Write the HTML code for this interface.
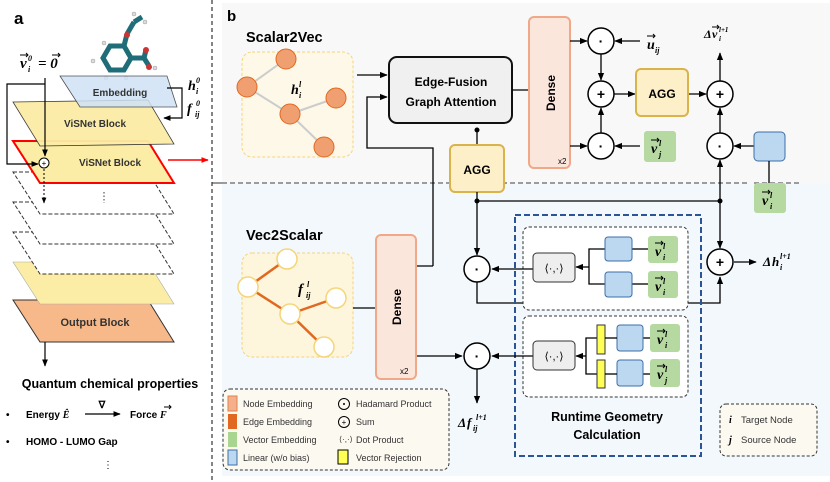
<!DOCTYPE html>
<html><head><meta charset="utf-8"><style>
body{margin:0;background:#fff}
svg{display:block}
.b{font-family:"Liberation Sans",sans-serif;font-weight:bold}
.s{font-family:"Liberation Sans",sans-serif}
.m{font-family:"Liberation Serif",serif;font-style:italic;font-weight:bold}
.va{stroke:#000;stroke-width:1;fill:none}
</style></head><body>
<svg width="830" height="482" viewBox="0 0 830 482" xmlns="http://www.w3.org/2000/svg">
<defs>
<marker id="a" viewBox="0 0 10 10" refX="9" refY="5" markerWidth="6" markerHeight="6" orient="auto"><path d="M0,1 L10,5 L0,9 z" fill="#000"/></marker>
<marker id="ar" viewBox="0 0 10 10" refX="9" refY="5" markerWidth="5" markerHeight="5" orient="auto"><path d="M0,1 L10,5 L0,9 z" fill="#f00"/></marker>
</defs>
<rect x="222" y="3" width="608" height="181" fill="#f8f8f9"/>
<rect x="222" y="184" width="608" height="292" fill="#f3f8fd"/>
<line x1="212" y1="0" x2="212" y2="482" stroke="#333" stroke-dasharray="4,3" stroke-width="1.2"/>
<line x1="212" y1="183" x2="222" y2="183" stroke="#333"/>
<line x1="222" y1="183" x2="750" y2="183" stroke="#666" stroke-dasharray="5,3" stroke-width="1.3"/>
<line x1="754" y1="183" x2="800" y2="183" stroke="#666" stroke-dasharray="5,3" stroke-width="1.3"/>

<!-- ===== Panel a ===== -->
<text x="14" y="24" class="b" font-size="17">a</text>
<g stroke="#1f6d78" stroke-width="5" fill="none">
<polygon points="110,46 124,46 131,58 124,70 110,70 103,58"/>
<line x1="124" y1="46" x2="127" y2="34"/><line x1="127" y1="34" x2="134" y2="22"/><line x1="134" y1="22" x2="142" y2="17"/>
<line x1="131" y1="58" x2="144" y2="58"/><line x1="144" y1="58" x2="146" y2="50"/><line x1="144" y1="58" x2="149" y2="66"/>
</g>
<circle cx="127" cy="35" r="3" fill="#c33"/><circle cx="146" cy="50" r="3" fill="#c33"/><circle cx="149" cy="67" r="3" fill="#c33"/>
<g fill="#ddd" stroke="#999" stroke-width=".5"><circle cx="134" cy="14" r="2"/><circle cx="145" cy="22" r="2"/><circle cx="104" cy="43" r="2"/><circle cx="93" cy="61" r="2"/><circle cx="106" cy="78" r="2"/><circle cx="126" cy="78" r="2"/><circle cx="155" cy="68" r="2"/></g>
<polygon points="13,300 148,300 174,342 40,342" fill="#f8b98a" stroke="#333" stroke-width="1"/>
<text x="95" y="326" class="b" font-size="11" fill="#333" text-anchor="middle">Output Block</text>
<polygon points="13,262 148,262 174,304 40,304" fill="#fbeda5" stroke="#aaa" stroke-width=".6"/>
<polygon points="13,232 148,232 174,274 40,274" fill="#fff" stroke="#333" stroke-dasharray="4,2"/>
<polygon points="13,202 148,202 174,244 40,244" fill="#fff" stroke="#333" stroke-dasharray="4,2"/>
<polygon points="13,172 148,172 174,214 40,214" fill="#fff" stroke="#333" stroke-dasharray="4,2"/>
<line x1="104" y1="192" x2="104" y2="203" stroke="#333" stroke-dasharray="1.5,2"/>
<polygon points="13,141 148,141 174,183 40,183" fill="#fbeda5" stroke="#f00" stroke-width="2"/>
<text x="110" y="166" class="b" font-size="10" fill="#333" text-anchor="middle">ViSNet Block</text>
<polygon points="13,102 148,100 174,144 40,146" fill="#fbeda5" stroke="#333" stroke-width=".8" opacity=".95"/>
<text x="95" y="127" class="b" font-size="10" fill="#333" text-anchor="middle">ViSNet Block</text>
<polygon points="60,76 167,76 177,107 80,107" fill="#cfe2f6" stroke="#333" stroke-width=".8" opacity=".85"/>
<text x="120" y="96" class="b" font-size="10" fill="#333" text-anchor="middle">Embedding</text>
<!-- v_i^0 = 0 -->
<text x="20" y="68" class="m" font-size="15">v</text><text x="28" y="72" class="m" font-size="8">i</text><text x="28" y="61" class="m" font-size="8">0</text>
<text x="38" y="68" class="m" font-size="15" font-style="normal">= 0</text>
<path class="va" d="M20,55 h8 m-2,-2 l2,2 l-2,2"/><path class="va" d="M52,55 h8 m-2,-2 l2,2 l-2,2"/>
<line x1="45" y1="78" x2="45" y2="156" stroke="#000" stroke-width="1.2" marker-end="url(#a)"/>
<polyline points="45,84 7,84 7,164 38,164" fill="none" stroke="#000" stroke-width="1.2" marker-end="url(#a)"/>
<circle cx="44" cy="163" r="5" fill="#fff" stroke="#000"/><text x="44" y="166" class="s" font-size="8" text-anchor="middle">+</text>
<line x1="44" y1="169" x2="44" y2="203" stroke="#000" stroke-dasharray="2,2" marker-end="url(#a)"/>
<line x1="168" y1="160" x2="208" y2="160" stroke="#f00" stroke-width="1.5" marker-end="url(#ar)"/>
<polyline points="167,88 182,88 182,118 164,118" fill="none" stroke="#000" stroke-width="1.2" marker-end="url(#a)"/>
<text x="188" y="90" class="m" font-size="14">h</text><text x="196" y="94" class="m" font-size="8">i</text><text x="196" y="83" class="m" font-size="8">0</text>
<text x="187" y="113" class="m" font-size="14">f</text><text x="195" y="117" class="m" font-size="8">ij</text><text x="196" y="106" class="m" font-size="8">0</text>
<line x1="45" y1="342" x2="45" y2="366" stroke="#000" stroke-width="1.2" marker-end="url(#a)"/>
<text x="110" y="388" class="b" font-size="12.5" text-anchor="middle">Quantum chemical properties</text>
<text x="6" y="418" class="b" font-size="10">•</text>
<text x="26" y="418" class="b" font-size="10">Energy <tspan class="m" font-weight="normal">Ê</tspan></text>
<line x1="85" y1="414" x2="120" y2="414" stroke="#000" stroke-width="1.2" marker-end="url(#a)"/>
<text x="102" y="408" class="b" font-size="10" text-anchor="middle">∇</text>
<text x="130" y="418" class="b" font-size="10">Force <tspan class="m">F</tspan></text>
<path class="va" d="M164,407 h7 m-2,-2 l2,2 l-2,2"/>
<text x="6" y="445" class="b" font-size="10">•</text>
<text x="26" y="445" class="b" font-size="10">HOMO - LUMO Gap</text>
<text x="103" y="468" class="s" font-size="10">⋮</text>

<!-- ===== Panel b ===== -->
<text x="227" y="21" class="b" font-size="15">b</text>
<text x="246" y="42" class="b" font-size="14.5">Scalar2Vec</text>
<rect x="242" y="52" width="111" height="105" rx="10" fill="#fdf8e8" stroke="#f5d57a" stroke-dasharray="3,2"/>
<g stroke="#ccc" stroke-width="2"><line x1="286" y1="59" x2="247" y2="87"/><line x1="247" y1="87" x2="290" y2="114"/><line x1="290" y1="114" x2="336" y2="98"/><line x1="290" y1="114" x2="324" y2="147"/></g>
<g fill="#f0a070" stroke="#e06820" stroke-width="1"><circle cx="286" cy="59" r="10"/><circle cx="247" cy="87" r="10"/><circle cx="336" cy="98" r="10"/><circle cx="290" cy="114" r="10"/><circle cx="324" cy="147" r="10"/></g>
<text x="291" y="94" class="m" font-size="14">h</text><text x="299" y="98" class="m" font-size="8">i</text><text x="299" y="87" class="m" font-size="8">l</text>

<line x1="357" y1="75" x2="387" y2="75" stroke="#000" stroke-width="1.3" marker-end="url(#a)"/>
<polyline points="433,266 433,148 367,148 367,97 387,97" fill="none" stroke="#000" stroke-width="1.3" marker-end="url(#a)"/>
<polyline points="416,266 433,266" fill="none" stroke="#000" stroke-width="1.3"/>
<rect x="389" y="57" width="123" height="66" rx="8" fill="#f0f0f0" stroke="#111" stroke-width="2"/>
<text x="451" y="86" class="b" font-size="12" text-anchor="middle">Edge-Fusion</text>
<text x="451" y="106" class="b" font-size="12" text-anchor="middle">Graph Attention</text>
<line x1="512" y1="90" x2="530" y2="90" stroke="#000" stroke-width="1.3"/>
<rect x="529" y="17" width="41" height="151" rx="5" fill="#fbe6dc" stroke="#f0a888" stroke-width="2"/>
<text transform="translate(555,93) rotate(-90)" class="b" font-size="12" text-anchor="middle">Dense</text>
<text x="558" y="164" class="s" font-size="8">x2</text>
<line x1="477" y1="130" x2="477" y2="145" stroke="#000" stroke-width="1.3"/><circle cx="477" cy="130" r="2.5"/>
<rect x="450" y="145" width="54" height="47" rx="5" fill="#fdf0c8" stroke="#d9b34c" stroke-width="2"/>
<text x="477" y="174" class="b" font-size="12" text-anchor="middle">AGG</text>
<line x1="477" y1="192" x2="477" y2="201" stroke="#000" stroke-width="1.3"/>
<g fill="#fff" stroke="#000" stroke-width="1.5">
<circle cx="601" cy="41" r="13"/><circle cx="601" cy="94" r="13"/><circle cx="601" cy="146" r="13"/>
<circle cx="720" cy="94" r="13"/><circle cx="720" cy="146" r="13"/>
<circle cx="477" cy="269" r="13"/><circle cx="477" cy="356" r="13"/><circle cx="720" cy="262" r="13"/>
</g>
<g class="b" font-size="14" text-anchor="middle"><text x="601" y="46">·</text><text x="601" y="99">+</text><text x="601" y="151">·</text><text x="720" y="99">+</text><text x="720" y="151">·</text><text x="477" y="274">·</text><text x="477" y="361">·</text><text x="720" y="267">+</text></g>
<g stroke="#000" stroke-width="1.3" fill="none" marker-end="url(#a)">
<line x1="570" y1="41" x2="587" y2="41"/><line x1="570" y1="146" x2="587" y2="146"/>
<line x1="640" y1="41" x2="615" y2="41"/><line x1="640" y1="146" x2="615" y2="146"/>
<line x1="601" y1="54" x2="601" y2="80"/><line x1="601" y1="133" x2="601" y2="108"/>
<line x1="614" y1="94" x2="635" y2="94"/><line x1="688" y1="94" x2="706" y2="94"/>
<line x1="720" y1="133" x2="720" y2="108"/><line x1="720" y1="81" x2="720" y2="53"/>
<line x1="754" y1="146" x2="734" y2="146"/>
<line x1="720" y1="201" x2="720" y2="160"/><line x1="720" y1="201" x2="720" y2="248"/>
<line x1="477" y1="201" x2="477" y2="255"/>
<line x1="734" y1="262" x2="756" y2="262"/>
<line x1="416" y1="356" x2="462" y2="356"/>
<line x1="477" y1="369" x2="477" y2="403"/>
<polyline points="688,303 720,303 720,277"/>
</g>
<line x1="477" y1="201" x2="720" y2="201" stroke="#000" stroke-width="1.3"/>
<circle cx="477" cy="201" r="2.5"/><circle cx="720" cy="201" r="2.5"/>
<polyline points="477,282 477,303 523,303" fill="none" stroke="#000" stroke-width="1.3"/>
<rect x="636" y="69" width="52" height="47" rx="5" fill="#fdf0c8" stroke="#d9b34c" stroke-width="2"/>
<text x="662" y="98" class="b" font-size="12" text-anchor="middle">AGG</text>
<!-- u_ij -->
<text x="647" y="49" class="m" font-size="14">u</text><text x="655" y="53" class="m" font-size="8">ij</text>
<path class="va" d="M647,36 h8 m-2,-2 l2,2 l-2,2"/>
<rect x="644" y="131" width="32" height="31" rx="3" fill="#b5d9a0"/>
<text x="651" y="153" class="m" font-size="14">v</text><text x="659" y="157" class="m" font-size="8">j</text><text x="659" y="146" class="m" font-size="8">l</text>
<path class="va" d="M651,140 h8 m-2,-2 l2,2 l-2,2"/>
<!-- delta v -->
<text x="704" y="38" class="m" font-size="12" font-weight="normal">Δ</text><text x="712" y="38" class="m" font-size="12">v</text><text x="719" y="41" class="m" font-size="7">i</text><text x="719" y="32" class="m" font-size="7">l+1</text>
<path class="va" d="M712,27 h7 m-2,-2 l2,2 l-2,2"/>
<rect x="754" y="132" width="31" height="29" rx="4" fill="#bcd7f0" stroke="#3d6fa8"/>
<line x1="769" y1="161" x2="769" y2="183" stroke="#000" stroke-width="1.3"/>
<rect x="754" y="183" width="32" height="30" rx="3" fill="#b5d9a0"/>
<text x="762" y="205" class="m" font-size="14">v</text><text x="770" y="209" class="m" font-size="8">i</text><text x="770" y="198" class="m" font-size="8">l</text>
<path class="va" d="M762,192 h8 m-2,-2 l2,2 l-2,2"/>
<text x="763" y="266" class="m" font-size="13" font-weight="normal">Δ</text><text x="772" y="266" class="m" font-size="13">h</text><text x="780" y="270" class="m" font-size="8">i</text><text x="780" y="259" class="m" font-size="8">l+1</text>

<!-- Vec2Scalar -->
<text x="246" y="240" class="b" font-size="14.5">Vec2Scalar</text>
<rect x="242" y="253" width="111" height="104" rx="10" fill="#fdf5dc" stroke="#f5d57a" stroke-dasharray="3,2"/>
<g stroke="#e06820" stroke-width="2.5"><line x1="287" y1="259" x2="248" y2="287"/><line x1="248" y1="287" x2="290" y2="314"/><line x1="290" y1="314" x2="336" y2="298"/><line x1="290" y1="314" x2="324" y2="347"/></g>
<g fill="#fff" stroke="#f5d57a" stroke-width="1.5"><circle cx="287" cy="259" r="10"/><circle cx="248" cy="287" r="10"/><circle cx="336" cy="298" r="10"/><circle cx="290" cy="314" r="10"/><circle cx="324" cy="347" r="10"/></g>
<text x="298" y="294" class="m" font-size="15">f</text><text x="306" y="298" class="m" font-size="8">ij</text><text x="307" y="287" class="m" font-size="8">l</text>
<line x1="353" y1="308" x2="376" y2="308" stroke="#000" stroke-width="1.3"/>
<rect x="376" y="235" width="40" height="144" rx="5" fill="#fbe6dc" stroke="#f0a888" stroke-width="2"/>
<text transform="translate(401,307) rotate(-90)" class="b" font-size="12" text-anchor="middle">Dense</text>
<text x="400" y="374" class="s" font-size="8">x2</text>
<text x="458" y="427" class="m" font-size="13" font-weight="normal">Δ</text><text x="467" y="427" class="m" font-size="13">f</text><text x="473" y="431" class="m" font-size="8">ij</text><text x="476" y="420" class="m" font-size="8">l+1</text>

<!-- Runtime geometry -->
<rect x="515" y="215" width="186" height="241" fill="none" stroke="#2a5599" stroke-width="2" stroke-dasharray="6,3"/>
<rect x="523" y="227" width="165" height="83" rx="6" fill="#fff" stroke="#333" stroke-dasharray="3,2"/>
<rect x="523" y="316" width="165" height="81" rx="6" fill="#fff" stroke="#333" stroke-dasharray="3,2"/>
<g stroke="#000" stroke-width="1.3" fill="none">
<line x1="533" y1="269" x2="492" y2="269" marker-end="url(#a)"/>
<line x1="533" y1="356" x2="492" y2="356" marker-end="url(#a)"/>
<polyline points="605,249 589,249 589,284 605,284"/><line x1="589" y1="267" x2="576" y2="267" marker-end="url(#a)"/>
<line x1="632" y1="249" x2="648" y2="249"/><line x1="632" y1="284" x2="648" y2="284"/>
<polyline points="597,338 586,338 586,374 597,374"/><line x1="586" y1="356" x2="576" y2="356" marker-end="url(#a)"/>
<line x1="643" y1="338" x2="650" y2="338"/><line x1="643" y1="374" x2="650" y2="374"/>
</g>
<rect x="533" y="253" width="42" height="29" rx="4" fill="#eee" stroke="#333"/>
<rect x="533" y="341" width="42" height="29" rx="4" fill="#eee" stroke="#333"/>
<text x="554" y="272" class="s" font-size="11" text-anchor="middle">⟨·,·⟩</text>
<text x="554" y="360" class="s" font-size="11" text-anchor="middle">⟨·,·⟩</text>
<g fill="#bcd7f0" stroke="#3d6fa8"><rect x="605" y="237" width="27" height="24" rx="3"/><rect x="605" y="272" width="27" height="25" rx="3"/><rect x="617" y="325" width="26" height="26" rx="3"/><rect x="617" y="360" width="26" height="26" rx="3"/></g>
<g fill="#ffff55" stroke="#333"><rect x="597" y="325" width="8" height="29"/><rect x="597" y="360" width="8" height="28"/></g>
<line x1="605" y1="338" x2="617" y2="338" stroke="#000" stroke-width="1.3"/><line x1="605" y1="374" x2="617" y2="374" stroke="#000" stroke-width="1.3"/>
<g fill="#b5d9a0"><rect x="648" y="236" width="30" height="27" rx="3"/><rect x="648" y="271" width="30" height="27" rx="3"/><rect x="650" y="324" width="30" height="28" rx="3"/><rect x="650" y="359" width="30" height="28" rx="3"/></g>
<g class="m">
<text x="655" y="256" font-size="14">v</text><text x="663" y="260" font-size="8">i</text><text x="663" y="249" font-size="8">l</text>
<text x="655" y="291" font-size="14">v</text><text x="663" y="295" font-size="8">i</text><text x="663" y="284" font-size="8">l</text>
<text x="657" y="344" font-size="14">v</text><text x="665" y="348" font-size="8">i</text><text x="665" y="337" font-size="8">l</text>
<text x="657" y="379" font-size="14">v</text><text x="665" y="383" font-size="8">j</text><text x="665" y="372" font-size="8">l</text>
</g>
<path class="va" d="M655,243 h8 m-2,-2 l2,2 l-2,2 M655,278 h8 m-2,-2 l2,2 l-2,2 M657,331 h8 m-2,-2 l2,2 l-2,2 M657,366 h8 m-2,-2 l2,2 l-2,2"/>
<text x="607" y="421" class="b" font-size="12.5" text-anchor="middle">Runtime Geometry</text>
<text x="607" y="439" class="b" font-size="12.5" text-anchor="middle">Calculation</text>

<!-- Legend -->
<rect x="223" y="389" width="226" height="81" rx="7" fill="#fcf9f1" stroke="#333" stroke-dasharray="3,2"/>
<rect x="228" y="396" width="9" height="15" fill="#f4b08a" stroke="#e08050"/>
<rect x="228" y="414" width="9" height="15" fill="#e06820"/>
<rect x="228" y="432" width="9" height="15" fill="#a8d590"/>
<rect x="228" y="450" width="9" height="15" fill="#bcd7f0" stroke="#3d6fa8"/>
<g class="s" font-size="9" fill="#333">
<text x="243" y="407">Node Embedding</text><text x="243" y="425">Edge Embedding</text><text x="243" y="443">Vector Embedding</text><text x="243" y="461">Linear (w/o bias)</text>
<text x="356" y="407">Hadamard Product</text><text x="356" y="425">Sum</text><text x="356" y="443">Dot Product</text><text x="356" y="461">Vector Rejection</text>
<text x="339" y="442" font-size="8">⟨·,·⟩</text>
</g>
<circle cx="344" cy="404" r="5.5" fill="none" stroke="#000"/><circle cx="344" cy="404" r="1" fill="#000"/>
<circle cx="344" cy="422" r="5.5" fill="none" stroke="#000"/><text x="344" y="425" class="s" font-size="8" text-anchor="middle">+</text>
<rect x="338" y="450" width="10" height="14" fill="#ffff55" stroke="#000"/>
<rect x="720" y="404" width="97" height="52" rx="6" fill="#fcf9f1" stroke="#333" stroke-dasharray="3,2"/>
<text x="729" y="423" class="m" font-size="10">i</text><text x="741" y="423" class="s" font-size="9.5" fill="#333">Target Node</text>
<text x="729" y="443" class="m" font-size="10">j</text><text x="741" y="443" class="s" font-size="9.5" fill="#333">Source Node</text>
</svg>
</body></html>
